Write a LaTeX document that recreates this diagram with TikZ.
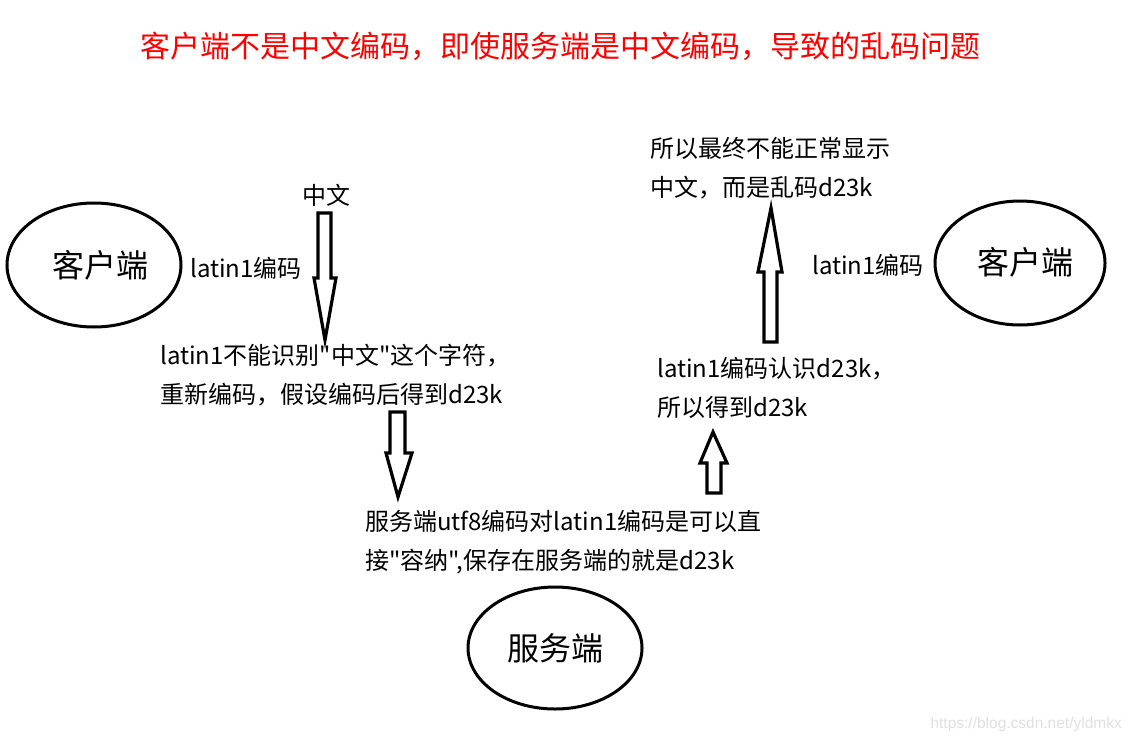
\documentclass[tikz,border=0pt]{standalone}
\usepackage{fontspec}
\setmainfont{Noto Sans CJK SC}[Ligatures=TeXOff]
\newfontfamily\wmfont{Liberation Sans}
\begin{document}
\begin{tikzpicture}[x=1pt,y=-1pt,
  lbl/.style={font=\fontsize{24}{39}\selectfont,inner sep=0pt,align=left},
  big/.style={font=\fontsize{32}{36}\selectfont,inner sep=0pt},
  ring/.style={line width=3pt},
  blk/.style={draw=black,line width=3.2pt,line join=miter,fill=white}]
\useasboundingbox (0,0) rectangle (1131,741);
\fill[white] (0,0) rectangle (1131,741);
% block arrows
\draw[blk] (318,213) -- (331,213) -- (331,278) -- (336,278) -- (325,340) -- (314,278) -- (318,278) -- cycle;
\draw[blk] (390,412) -- (405,412) -- (405,453) -- (412,453) -- (398,497) -- (386,453) -- (390,453) -- cycle;
\draw[blk] (707,493) -- (721,493) -- (721,463) -- (727,463) -- (713,432) -- (700,463) -- (707,463) -- cycle;
\draw[blk] (764,342) -- (777,342) -- (777,272) -- (782,272) -- (771,208) -- (758,272) -- (764,272) -- cycle;
% title
\node[font=\fontsize{30}{34}\selectfont,text=red,inner sep=0pt,anchor=base] (title) at (560,58) {客户端不是中文编码，即使服务端是中文编码，导致的乱码问题};
% ellipses
\draw[ring] (94,265) ellipse [x radius=87pt,y radius=62pt];
\node[big,anchor=base] (c1) at (100,277) {客户端};
\draw[ring] (1020,263) ellipse [x radius=85pt,y radius=62pt];
\node[big,anchor=base] (c2) at (1025,274) {客户端};
\draw[ring] (555,648) ellipse [x radius=87pt,y radius=61pt];
\node[big,anchor=base] (srv) at (555,660) {服务端};
% labels
\node[lbl,anchor=base west] (enc1) at (190,277) {latin1编码};
\node[lbl,anchor=base] (zw) at (326,204) {中文};
\node[lbl,anchor=base west] (enc2) at (812,274) {latin1编码};
\node[lbl,anchor=base west] (t1) at (160,403) {latin1不能识别"中文"这个字符，\\重新编码，假设编码后得到d23k};
\node[lbl,anchor=base west] (t2) at (365,569) {服务端utf8编码对latin1编码是可以直\\接"容纳",保存在服务端的就是d23k};
\node[lbl,anchor=base west] (t3) at (657,416) {latin1编码认识d23k，\\所以得到d23k};
\node[lbl,anchor=base west] (t4) at (650,196) {所以最终不能正常显示\\中文，而是乱码d23k};
% watermark
\node[font=\fontsize{15.5}{18}\selectfont\wmfont,text=black!12,anchor=base east,inner sep=0pt] (wm) at (1122,728) {https://blog.csdn.net/yldmkx};
\end{tikzpicture}
\end{document}
